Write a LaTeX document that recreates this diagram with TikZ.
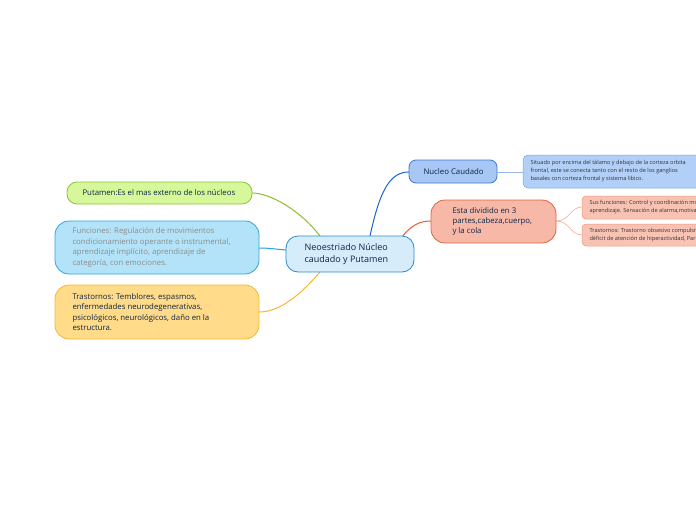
\documentclass[tikz,border=0pt]{standalone}
\usepackage{fontspec}
\setmainfont{Open Sans}
\begin{document}
\begin{tikzpicture}[x=1pt,y=-1pt,
 bx/.style={draw,rounded corners=#1,line width=0.8pt,inner sep=0pt},
 bx/.default=10pt,
 tx/.style={align=left,font=\fontsize{7.8}{10.4}\selectfont,anchor=west},
 sm/.style={align=left,font=\fontsize{5.6}{8}\selectfont,anchor=west,text=black!80}]
\useasboundingbox (0,0) rectangle (696,520);
\clip (0,0) rectangle (696,520);
\definecolor{nav}{HTML}{0B2545}
% connectors
\coordinate (c1) at (370,236);
\coordinate (c2) at (400,240);
\coordinate (c3) at (320,236);
\coordinate (c4) at (286,250);
\coordinate (c5) at (320,272);
\draw[line width=1pt,color={rgb,255:red,30;green,100;blue,200}] (c1) .. controls (380,190) and (390,172) .. (409,172);
\draw[line width=1pt,color={rgb,255:red,232;green,90;blue,50}] (c2) .. controls (410,225) and (420,221) .. (431,221);
\draw[line width=1pt,color={rgb,255:red,140;green,190;blue,40}] (c3) .. controls (300,210) and (270,193) .. (252,193);
\draw[line width=1pt,color={rgb,255:red,40;green,160;blue,220}] (c4) .. controls (275,249) and (268,248) .. (259,248);
\draw[line width=1pt,color={rgb,255:red,245;green,185;blue,40}] (c5) .. controls (300,295) and (280,312) .. (259,312);
\draw[line width=0.6pt,color={rgb,255:red,150;green,185;blue,235}] (497,172) .. controls (510,172) .. (523,172);
\draw[line width=0.6pt,color={rgb,255:red,245;green,170;blue,150}] (556,221) .. controls (570,221) and (570,207) .. (582,207);
\draw[line width=0.6pt,color={rgb,255:red,245;green,170;blue,150}] (556,221) .. controls (570,221) and (570,235) .. (582,235);
% boxes
\draw[bx=12pt,fill={rgb,255:red,214;green,236;blue,250},draw={rgb,255:red,40;green,140;blue,210}] (286,236) rectangle (414,272);
\node[tx,text=nav,font=\fontsize{9}{12}\selectfont] (cen) at (301,254) {Neoestriado Núcleo\\caudado y Putamen};
\draw[bx=7pt,fill={rgb,255:red,167;green,200;blue,245},draw={rgb,255:red,60;green,120;blue,210}] (409,160) rectangle (497,183);
\node[tx,text=nav] (nc) at (420,172) {Nucleo Caudado};
\draw[bx=5pt,line width=0.5pt,fill={rgb,255:red,178;green,207;blue,247},draw={rgb,255:red,120;green,165;blue,230}] (523,155) rectangle (720,188);
\node[sm] (sit) at (527,171.5) {Situado por encima del tálamo y debajo de la corteza orbita\\frontal, este se conecta  tanto con el resto de los ganglios\\basales con corteza frontal y sistema libico.};
\draw[bx=14pt,fill={rgb,255:red,247;green,184;blue,168},draw={rgb,255:red,232;green,96;blue,60}] (431,200) rectangle (556,243);
\node[tx,text=nav] (esta) at (449,221.5) {Esta dividido en 3\\partes,cabeza,cuerpo,\\y la cola};
\draw[bx=4pt,line width=0.5pt,fill={rgb,255:red,249;green,195;blue,180},draw={rgb,255:red,240;green,150;blue,125}] (582,196) rectangle (720,219);
\node[sm] (sus) at (586,207.5) {Sus funciones: Control y coordinación motora,\\aprendizaje. Sensación  de alarma,motivación};
\draw[bx=4pt,line width=0.5pt,fill={rgb,255:red,249;green,195;blue,180},draw={rgb,255:red,240;green,150;blue,125}] (582,224) rectangle (720,246);
\node[sm] (tr2) at (586,235) {Trastornos: Trastorno obsesivo compulsivo,\\déficit de atención de hiperactividad, Parkinson};
\draw[bx=10pt,fill={rgb,255:red,215;green,247;blue,155},draw={rgb,255:red,140;green,194;blue,58}] (67,182) rectangle (252,204);
\node[tx,text=nav] (put) at (79,193) {Putamen:Es el mas externo de los núcleos};
\draw[bx=14pt,fill={rgb,255:red,179;green,227;blue,248},draw={rgb,255:red,46;green,165;blue,220}] (55,221) rectangle (259,274);
\node[tx,text=black!45] (fun) at (69,247.5) {Funciones: Regulación de movimientos\\condicionamiento operante o instrumental,\\aprendizaje implícito, aprendizaje de\\categoría, con emociones.};
\draw[bx=14pt,fill={rgb,255:red,255;green,219;blue,138},draw={rgb,255:red,244;green,185;blue,46}] (55,285) rectangle (259,339);
\node[tx,text=nav] (tra) at (69,312) {Trastornos: Temblores, espasmos,\\enfermedades neurodegenerativas,\\psicológicos, neurológicos, daño en la\\estructura.};
\end{tikzpicture}
\end{document}
